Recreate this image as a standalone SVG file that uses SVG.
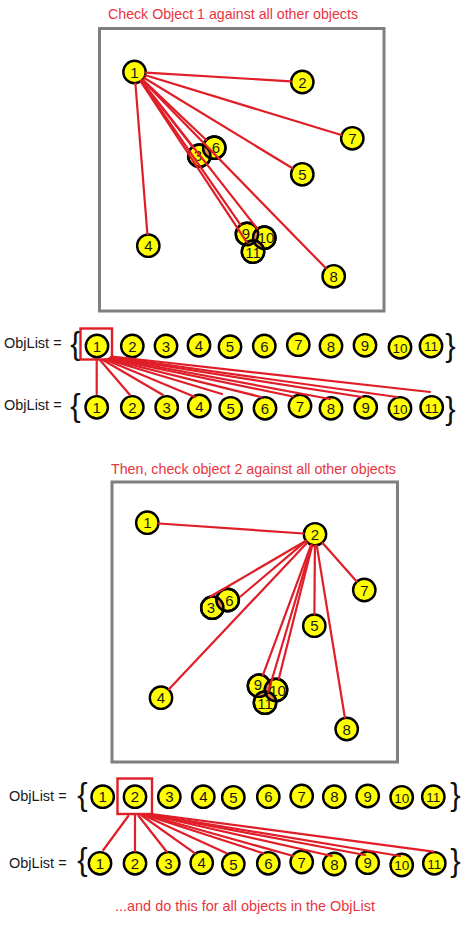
<svg xmlns="http://www.w3.org/2000/svg" width="474" height="932" viewBox="0 0 474 932">
<style>
.title{font-family:"Liberation Sans",Arial,sans-serif;font-size:15px;fill:#e8353f}
.lbl{font-family:"Liberation Sans",Arial,sans-serif;font-size:14.5px;fill:#1a1a1a}
.brace{font-family:"Liberation Sans",Arial,sans-serif;font-size:31px;fill:#111;text-anchor:middle}
.box{fill:none;stroke:#7f7f7f;stroke-width:3}
.node circle{fill:#ffff00;stroke:#000;stroke-width:2.4}
.node text{font-family:"Liberation Sans",Arial,sans-serif;font-size:15px;fill:#1a1a1a;text-anchor:middle}
.node text.s{font-size:13.5px}
.lens{fill:#e8883c;stroke:none}
.ring{fill:none;stroke:#000;stroke-width:2.4}
.sel{fill:none;stroke:#e01e28;stroke-width:2.4}
#connectors line{stroke:#e01e28;stroke-width:2.2;stroke-linecap:round}
</style>
<defs>
<clipPath id="ct3"><circle cx="199.3" cy="155.7" r="11.2"/></clipPath>
<clipPath id="ct9"><circle cx="247" cy="234" r="11.2"/></clipPath>
<clipPath id="ct10"><circle cx="264.3" cy="237.7" r="11.2"/></clipPath>
<clipPath id="cb3"><circle cx="212.3" cy="607.7" r="11.2"/></clipPath>
<clipPath id="cb9"><circle cx="259" cy="685.7" r="11.2"/></clipPath>
<clipPath id="cb10"><circle cx="276" cy="690" r="11.2"/></clipPath>
</defs>
<rect width="474" height="932" fill="#fff"/>

<text class="title" x="108" y="19" textLength="250" lengthAdjust="spacingAndGlyphs">Check Object 1 against all other objects</text>
<text class="title" x="111" y="474" textLength="285" lengthAdjust="spacingAndGlyphs">Then, check object 2 against all other objects</text>
<text class="title" x="115" y="911" textLength="260" lengthAdjust="spacingAndGlyphs">...and do this for all objects in the ObjList</text>

<rect class="box" x="99.5" y="28.5" width="284.5" height="282.5"/>
<rect class="box" x="112" y="482" width="285.5" height="280"/>

<!-- Top box nodes -->
<g id="top-n1" class="node"><circle cx="134.5" cy="72" r="11.2"/><text x="134.5" y="77.5">1</text></g>
<g id="top-n2" class="node"><circle cx="302.3" cy="82" r="11.2"/><text x="302.3" y="87.5">2</text></g>
<g id="top-n3" class="node"><circle cx="199.3" cy="155.7" r="11.2"/><text x="197.8" y="161.2">3</text></g>
<g id="top-n4" class="node"><circle cx="148.3" cy="245.7" r="11.2"/><text x="148.3" y="251.2">4</text></g>
<g id="top-n5" class="node"><circle cx="302.3" cy="174.3" r="11.2"/><text x="302.3" y="179.8">5</text></g>
<g id="top-n6" class="node"><circle cx="214.3" cy="147.7" r="11.2"/><text x="216" y="153.2">6</text></g>
<g id="top-n7" class="node"><circle cx="352.3" cy="138.3" r="11.2"/><text x="352.3" y="143.8">7</text></g>
<g id="top-n8" class="node"><circle cx="333.7" cy="276.3" r="11.2"/><text x="333.7" y="281.8">8</text></g>
<g id="top-n9" class="node"><circle cx="247" cy="234" r="11.2"/><text x="246" y="238.5">9</text></g>
<g id="top-n10" class="node"><circle cx="264.3" cy="237.7" r="11.2"/><text x="266" y="243.2">10</text></g>
<g id="top-n11" class="node"><circle cx="253" cy="251.7" r="11.2"/><text x="253" y="258">11</text></g>
<g id="top-overlaps">
<circle class="lens" cx="214.3" cy="147.7" r="11.2" clip-path="url(#ct3)"/>
<circle class="lens" cx="264.3" cy="237.7" r="11.2" clip-path="url(#ct9)"/>
<circle class="lens" cx="253" cy="251.7" r="11.2" clip-path="url(#ct9)"/>
<circle class="lens" cx="253" cy="251.7" r="11.2" clip-path="url(#ct10)"/>
<circle class="ring" cx="199.3" cy="155.7" r="11.2"/>
<circle class="ring" cx="214.3" cy="147.7" r="11.2"/>
<circle class="ring" cx="247" cy="234" r="11.2"/>
<circle class="ring" cx="264.3" cy="237.7" r="11.2"/>
<circle class="ring" cx="253" cy="251.7" r="11.2"/>
</g>

<!-- Bottom box nodes -->
<g id="bot-n1" class="node"><circle cx="147.3" cy="522.7" r="11.2"/><text x="147.3" y="528.2">1</text></g>
<g id="bot-n2" class="node"><circle cx="315" cy="534.3" r="11.2"/><text x="315" y="539.8">2</text></g>
<g id="bot-n3" class="node"><circle cx="212.3" cy="607.7" r="11.2"/><text x="210.8" y="613.2">3</text></g>
<g id="bot-n4" class="node"><circle cx="161" cy="697.7" r="11.2"/><text x="161" y="703.2">4</text></g>
<g id="bot-n5" class="node"><circle cx="314.3" cy="625.7" r="11.2"/><text x="314.3" y="631.2">5</text></g>
<g id="bot-n6" class="node"><circle cx="227.7" cy="600" r="11.2"/><text x="229.3" y="605.5">6</text></g>
<g id="bot-n7" class="node"><circle cx="364.3" cy="590" r="11.2"/><text x="364.3" y="595.5">7</text></g>
<g id="bot-n8" class="node"><circle cx="346.7" cy="729" r="11.2"/><text x="346.7" y="734.5">8</text></g>
<g id="bot-n9" class="node"><circle cx="259" cy="685.7" r="11.2"/><text x="258" y="690.2">9</text></g>
<g id="bot-n10" class="node"><circle cx="276" cy="690" r="11.2"/><text x="277.6" y="695.5">10</text></g>
<g id="bot-n11" class="node"><circle cx="265" cy="702.7" r="11.2"/><text x="265" y="709">11</text></g>
<g id="bot-overlaps">
<circle class="lens" cx="227.7" cy="600" r="11.2" clip-path="url(#cb3)"/>
<circle class="lens" cx="276" cy="690" r="11.2" clip-path="url(#cb9)"/>
<circle class="lens" cx="265" cy="702.7" r="11.2" clip-path="url(#cb9)"/>
<circle class="lens" cx="265" cy="702.7" r="11.2" clip-path="url(#cb10)"/>
<circle class="ring" cx="212.3" cy="607.7" r="11.2"/>
<circle class="ring" cx="227.7" cy="600" r="11.2"/>
<circle class="ring" cx="259" cy="685.7" r="11.2"/>
<circle class="ring" cx="276" cy="690" r="11.2"/>
<circle class="ring" cx="265" cy="702.7" r="11.2"/>
</g>

<!-- ObjList rows -->
<g id="row1">
<text class="lbl" x="4" y="348">ObjList =</text>
<text class="brace" x="75.5" y="354">{</text>
<text class="brace" x="450.5" y="356">}</text>
<rect class="sel" x="80.5" y="328.5" width="31.5" height="31"/>
<g id="r1-n1" class="node"><circle cx="97" cy="346" r="11.2"/><text x="97" y="351.5">1</text></g>
<g id="r1-n2" class="node"><circle cx="132.3" cy="346" r="11.2"/><text x="132.3" y="351.5">2</text></g>
<g id="r1-n3" class="node"><circle cx="166" cy="346" r="11.2"/><text x="166" y="351.5">3</text></g>
<g id="r1-n4" class="node"><circle cx="199" cy="345.3" r="11.2"/><text x="199" y="350.8">4</text></g>
<g id="r1-n5" class="node"><circle cx="230" cy="346.7" r="11.2"/><text x="230" y="352.2">5</text></g>
<g id="r1-n6" class="node"><circle cx="264.3" cy="346" r="11.2"/><text x="264.3" y="351.5">6</text></g>
<g id="r1-n7" class="node"><circle cx="298.3" cy="344.7" r="11.2"/><text x="298.3" y="350.2">7</text></g>
<g id="r1-n8" class="node"><circle cx="331" cy="346" r="11.2"/><text x="331" y="351.5">8</text></g>
<g id="r1-n9" class="node"><circle cx="365" cy="345.3" r="11.2"/><text x="365" y="350.8">9</text></g>
<g id="r1-n10" class="node"><circle cx="400" cy="347.3" r="11.2"/><text class="s" x="400" y="352.5">10</text></g>
<g id="r1-n11" class="node"><circle cx="431" cy="346" r="11.2"/><text class="s" x="431" y="351.2">11</text></g>
</g>
<g id="row2">
<text class="lbl" x="4" y="409.5">ObjList =</text>
<text class="brace" x="75.5" y="416">{</text>
<text class="brace" x="450.5" y="419">}</text>
<g id="r2-n1" class="node"><circle cx="96.7" cy="407.3" r="11.2"/><text x="96.7" y="412.8">1</text></g>
<g id="r2-n2" class="node"><circle cx="132.3" cy="407.3" r="11.2"/><text x="132.3" y="412.8">2</text></g>
<g id="r2-n3" class="node"><circle cx="166.7" cy="407.3" r="11.2"/><text x="166.7" y="412.8">3</text></g>
<g id="r2-n4" class="node"><circle cx="199.3" cy="406" r="11.2"/><text x="199.3" y="411.5">4</text></g>
<g id="r2-n5" class="node"><circle cx="230.7" cy="408.3" r="11.2"/><text x="230.7" y="413.8">5</text></g>
<g id="r2-n6" class="node"><circle cx="265" cy="408.3" r="11.2"/><text x="265" y="413.8">6</text></g>
<g id="r2-n7" class="node"><circle cx="300" cy="406" r="11.2"/><text x="300" y="411.5">7</text></g>
<g id="r2-n8" class="node"><circle cx="331" cy="408.3" r="11.2"/><text x="331" y="413.8">8</text></g>
<g id="r2-n9" class="node"><circle cx="365.7" cy="407.3" r="11.2"/><text x="365.7" y="412.8">9</text></g>
<g id="r2-n10" class="node"><circle cx="400" cy="408.3" r="11.2"/><text class="s" x="400" y="413.5">10</text></g>
<g id="r2-n11" class="node"><circle cx="431.7" cy="407.3" r="11.2"/><text class="s" x="431.7" y="412.5">11</text></g>
</g>
<g id="row3">
<text class="lbl" x="9" y="801">ObjList =</text>
<text class="brace" x="82.5" y="805">{</text>
<text class="brace" x="455.5" y="805">}</text>
<rect class="sel" x="117.5" y="778.5" width="34.5" height="35.5"/>
<g id="r3-n1" class="node"><circle cx="102.7" cy="796.7" r="11.2"/><text x="102.7" y="802.2">1</text></g>
<g id="r3-n2" class="node"><circle cx="135" cy="796.7" r="11.2"/><text x="135" y="802.2">2</text></g>
<g id="r3-n3" class="node"><circle cx="169.3" cy="796.7" r="11.2"/><text x="169.3" y="802.2">3</text></g>
<g id="r3-n4" class="node"><circle cx="203.3" cy="796.7" r="11.2"/><text x="203.3" y="802.2">4</text></g>
<g id="r3-n5" class="node"><circle cx="233.3" cy="797.3" r="11.2"/><text x="233.3" y="802.8">5</text></g>
<g id="r3-n6" class="node"><circle cx="268.3" cy="796.7" r="11.2"/><text x="268.3" y="802.2">6</text></g>
<g id="r3-n7" class="node"><circle cx="301.7" cy="796" r="11.2"/><text x="301.7" y="801.5">7</text></g>
<g id="r3-n8" class="node"><circle cx="334.3" cy="796.7" r="11.2"/><text x="334.3" y="802.2">8</text></g>
<g id="r3-n9" class="node"><circle cx="367.7" cy="796" r="11.2"/><text x="367.7" y="801.5">9</text></g>
<g id="r3-n10" class="node"><circle cx="401.7" cy="797.3" r="11.2"/><text class="s" x="401.7" y="802.5">10</text></g>
<g id="r3-n11" class="node"><circle cx="433.3" cy="796.7" r="11.2"/><text class="s" x="433.3" y="801.9">11</text></g>
</g>
<g id="row4">
<text class="lbl" x="9" y="867.5">ObjList =</text>
<text class="brace" x="82.5" y="870">{</text>
<text class="brace" x="455.5" y="871">}</text>
<g id="r4-n1" class="node"><circle cx="100" cy="863.3" r="11.2"/><text x="100" y="868.8">1</text></g>
<g id="r4-n2" class="node"><circle cx="135" cy="863.3" r="11.2"/><text x="135" y="868.8">2</text></g>
<g id="r4-n3" class="node"><circle cx="168.3" cy="863.3" r="11.2"/><text x="168.3" y="868.8">3</text></g>
<g id="r4-n4" class="node"><circle cx="201.7" cy="862.7" r="11.2"/><text x="201.7" y="868.2">4</text></g>
<g id="r4-n5" class="node"><circle cx="233.3" cy="864" r="11.2"/><text x="233.3" y="869.5">5</text></g>
<g id="r4-n6" class="node"><circle cx="268.3" cy="863.3" r="11.2"/><text x="268.3" y="868.8">6</text></g>
<g id="r4-n7" class="node"><circle cx="301.7" cy="862" r="11.2"/><text x="301.7" y="867.5">7</text></g>
<g id="r4-n8" class="node"><circle cx="334.3" cy="864" r="11.2"/><text x="334.3" y="869.5">8</text></g>
<g id="r4-n9" class="node"><circle cx="367.7" cy="862.7" r="11.2"/><text x="367.7" y="868.2">9</text></g>
<g id="r4-n10" class="node"><circle cx="401.7" cy="865" r="11.2"/><text class="s" x="401.7" y="870.2">10</text></g>
<g id="r4-n11" class="node"><circle cx="434.3" cy="863.3" r="11.2"/><text class="s" x="434.3" y="868.5">11</text></g>
</g>

<g id="connectors">
<!-- top box: object 1 to others -->
<line x1="146" y1="72.7" x2="290.8" y2="81.3"/>
<line x1="141.5" y1="81.1" x2="192.3" y2="146.6"/>
<line x1="142.8" y1="79.9" x2="206" y2="139.8"/>
<line x1="135.4" y1="83.5" x2="147.4" y2="234.2"/>
<line x1="144.3" y1="78" x2="292.5" y2="168.3"/>
<line x1="145.5" y1="75.3" x2="341.3" y2="135"/>
<line x1="142.5" y1="80.2" x2="325.7" y2="268.1"/>
<line x1="141.1" y1="81.4" x2="240.4" y2="224.6"/>
<line x1="141.6" y1="81.1" x2="257.2" y2="228.6"/>
<line x1="140.8" y1="81.6" x2="246.7" y2="242.1"/>
<!-- bottom box: object 2 to others -->
<line x1="303.5" y1="533.5" x2="158.8" y2="523.5"/>
<line x1="305.6" y1="541" x2="210.5" y2="596.5"/>
<line x1="305.8" y1="541.2" x2="240.5" y2="596.5"/>
<line x1="307.1" y1="542.7" x2="168.9" y2="689.3"/>
<line x1="314.9" y1="545.8" x2="314.4" y2="614.2"/>
<line x1="322.6" y1="542.9" x2="356.7" y2="581.4"/>
<line x1="316.8" y1="545.6" x2="344.9" y2="717.7"/>
<line x1="311" y1="545.1" x2="263" y2="674.9"/>
<line x1="312.2" y1="545.5" x2="278.8" y2="678.8"/>
<line x1="311.7" y1="545.3" x2="268.3" y2="691.7"/>
<!-- list 1 -->
<line x1="96.7" y1="360" x2="96.7" y2="394"/>
<line x1="100" y1="360" x2="130" y2="395"/>
<line x1="103" y1="360" x2="163" y2="395"/>
<line x1="105" y1="359.5" x2="195" y2="397"/>
<line x1="107" y1="359.5" x2="222" y2="394"/>
<line x1="108" y1="359" x2="261" y2="397"/>
<line x1="109" y1="358.5" x2="293" y2="396.5"/>
<line x1="110" y1="358" x2="330" y2="399"/>
<line x1="110.5" y1="357.5" x2="362" y2="397"/>
<line x1="111" y1="357" x2="397" y2="397"/>
<line x1="112" y1="356.5" x2="430" y2="392"/>
<!-- list 2 -->
<line x1="128.3" y1="816" x2="103.3" y2="850"/>
<line x1="135" y1="815" x2="135" y2="851"/>
<line x1="138.3" y1="815.5" x2="166.7" y2="851.7"/>
<line x1="141" y1="815" x2="195" y2="853.3"/>
<line x1="143" y1="815" x2="226.7" y2="853.3"/>
<line x1="145" y1="815" x2="263.3" y2="853.3"/>
<line x1="147" y1="815" x2="293.3" y2="856"/>
<line x1="148.5" y1="814.5" x2="331.7" y2="856"/>
<line x1="149.5" y1="814.5" x2="365" y2="855"/>
<line x1="150.5" y1="814.5" x2="400" y2="856"/>
<line x1="151.5" y1="814" x2="433.3" y2="851.7"/>
</g>
</svg>
